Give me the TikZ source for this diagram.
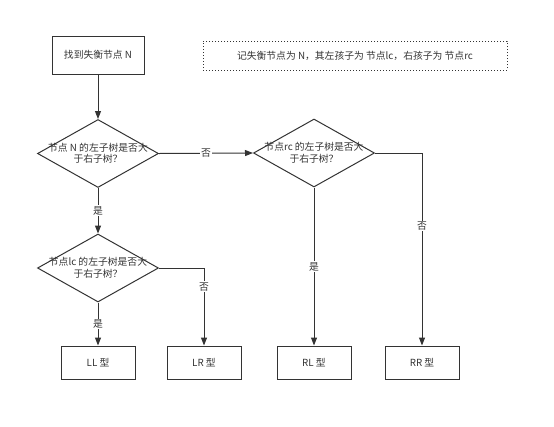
\documentclass[tikz,border=0pt]{standalone}
\usepackage{fontspec}
\setmainfont{Noto Sans CJK SC}
\usetikzlibrary{shapes.geometric,arrows.meta}
\definecolor{ln}{HTML}{333333}
\begin{document}
\begin{tikzpicture}[x=1pt,y=-1pt,
  txt/.style={font=\fontsize{9.8}{11.5}\selectfont, text=ln, align=center, inner sep=0pt},
  box/.style={txt, draw=ln, line width=1pt, minimum width=74pt, minimum height=33pt},
  dia/.style={diamond, draw=ln, line width=1pt, minimum width=121pt, minimum height=68pt, inner sep=0pt},
  arr/.style={draw=ln, line width=1pt, -{Triangle[length=8pt,width=6pt]}},
  lab/.style={txt, fill=white, inner sep=1pt}]
\useasboundingbox (0,0) rectangle (554,426);
\node[box, minimum width=92pt, minimum height=38pt] (b1) at (98,55) {找到失衡节点 N};
\node[txt, draw=ln, dotted, line width=1pt, minimum width=304pt, minimum height=29pt] (note) at (355,55.5) {记失衡节点为 N，其左孩子为 节点lc，右孩子为 节点rc};
\node[dia] (d1) at (98,153.5) {};
\node[txt] (t1) at (d1.center) {节点 N 的左子树是否大\\于右子树？};
\node[dia] (d2) at (314,153) {};
\node[txt] (t2) at (d2.center) {节点rc 的左子树是否大\\于右子树？};
\node[dia] (d3) at (98,268) {};
\node[txt] (t3) at (d3.center) {节点lc 的左子树是否大\\于右子树？};
\node[box] (ll) at (98,362.5) {LL 型};
\node[box] (lr) at (204,362.5) {LR 型};
\node[box] (rl) at (314,362.5) {RL 型};
\node[box] (rr) at (422,362.5) {RR 型};
\draw[arr] (b1.south) -- (d1.north);
\draw[arr] (d1.east) -- node[lab]{否} (d2.west);
\draw[arr] (d1.south) -- node[lab]{是} (d3.north);
\draw[arr] (d3.south) -- node[lab]{是} (ll.north);
\draw[arr] (d3.east) -| node[lab, pos=0.62]{否} (lr.north);
\draw[arr] (d2.south) -- node[lab]{是} (rl.north);
\draw[arr] (d2.east) -| node[lab, pos=0.69]{否} (rr.north);
\end{tikzpicture}
\end{document}
